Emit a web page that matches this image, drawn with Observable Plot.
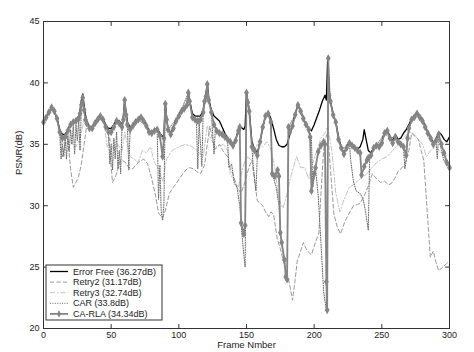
<!DOCTYPE html>
<html><head><meta charset="utf-8">
<script src="https://cdn.jsdelivr.net/npm/d3@7"></script>
<script src="https://cdn.jsdelivr.net/npm/@observablehq/plot@0.6"></script>
<style>body{margin:0;background:#fff;} #chart{width:474px;height:352px;}</style>
</head><body><div id="chart"></div>
<script>
const xTicks = [0, 50, 100, 150, 200, 250, 300];
const yTicks = [20, 25, 30, 35, 40, 45];
const legendNames = ["Error Free (36.27dB)", "Retry2 (31.17dB)", "Retry3 (32.74dB)", "CAR (33.8dB)", "CA-RLA (34.34dB)"];

const errorFree = [[0,36.8],[2,37.2],[4,37.6],[6,38.0],[8,37.7],[10,37.1],[12,36.2],[14,35.8],[16,35.8],[18,36.2],[20,36.7],[22,36.9],[24,37.0],[26,37.3],[27,37.8],[28,38.6],[29,39.1],[30,38.2],[31,37.4],[32,36.9],[34,36.4],[36,36.4],[38,36.8],[40,37.1],[42,37.4],[44,37.1],[46,36.6],[48,36.3],[50,36.3],[52,36.6],[54,37.0],[56,36.9],[58,36.6],[59,37.2],[60,38.6],[61,37.6],[62,36.8],[64,36.4],[66,36.6],[68,36.9],[70,37.1],[72,37.3],[74,37.0],[76,36.6],[78,36.1],[80,36.0],[82,36.2],[84,36.3],[86,35.9],[88,35.6],[89,35.8],[90,38.3],[91,37.2],[92,36.3],[94,35.9],[96,36.4],[98,37.0],[100,37.4],[102,37.8],[104,38.0],[106,38.3],[107,39.2],[108,38.6],[110,37.5],[112,37.3],[114,37.3],[116,37.3],[118,37.8],[119,38.6],[120,39.0],[121,40.0],[122,38.7],[124,37.8],[126,37.3],[128,37.1],[130,36.9],[132,36.4],[134,35.9],[136,35.5],[138,35.3],[140,35.0],[142,35.4],[144,36.2],[146,36.4],[148,36.2],[149,36.5],[150,39.2],[151,38.5],[152,37.8],[154,35.2],[156,34.6],[158,34.3],[160,35.2],[162,36.4],[164,37.3],[166,37.6],[168,37.1],[170,36.3],[172,35.4],[174,34.9],[176,34.8],[178,34.8],[180,35.0],[182,35.8],[184,36.6],[186,37.5],[188,38.2],[190,37.7],[192,37.1],[194,36.6],[196,36.3],[198,36.1],[200,36.6],[202,37.2],[204,37.8],[206,38.5],[208,39.0],[209,38.6],[210,42.0],[211,39.5],[212,38.5],[214,37.4],[216,36.8],[218,35.5],[220,34.8],[222,34.3],[224,34.8],[226,35.2],[228,35.0],[230,34.8],[232,34.6],[234,34.8],[236,35.4],[237,36.2],[238,35.6],[240,34.5],[242,34.3],[244,34.8],[246,35.0],[248,34.9],[250,35.2],[252,36.0],[254,36.2],[256,35.6],[258,35.3],[260,35.8],[262,35.4],[264,35.5],[266,35.9],[268,36.2],[270,36.6],[272,37.1],[274,37.3],[276,37.6],[278,37.3],[280,37.0],[282,36.5],[284,36.0],[286,35.6],[288,35.1],[290,35.4],[292,36.0],[294,35.8],[296,35.4],[298,35.2],[300,35.6]];

const retry2 = [[0,36.8],[6,38.0],[10,37.1],[12,36.0],[14,34.0],[16,35.0],[18,35.3],[20,33.0],[22,31.5],[24,31.9],[26,32.4],[28,33.4],[30,35.0],[32,36.6],[36,36.3],[42,37.3],[46,36.4],[48,36.0],[49,34.5],[51,31.9],[53,32.3],[55,33.0],[57,33.7],[60,33.6],[63,33.1],[66,33.0],[68,33.3],[70,33.5],[74,33.8],[77,33.4],[80,32.2],[83,30.7],[85,29.4],[88,29.0],[90,29.6],[93,31.0],[96,31.5],[98,31.8],[101,32.3],[103,32.6],[106,33.0],[108,33.1],[111,33.0],[113,32.8],[116,32.6],[119,33.3],[121,35.0],[123,36.5],[125,35.3],[127,34.6],[130,35.0],[133,34.4],[136,34.0],[138,33.0],[140,32.6],[143,31.5],[146,31.0],[149,32.0],[152,33.2],[154,33.7],[156,32.0],[158,30.4],[160,30.2],[162,30.0],[164,29.5],[166.5,29.1],[168,29.5],[170,29.3],[172.7,27.3],[175,26.5],[177.6,25.3],[180,24.5],[182,23.5],[184,22.3],[186,24.0],[187.5,25.5],[190,26.3],[192,27.0],[194,26.5],[196,26.2],[198,26.0],[200,26.7],[203.5,27.8],[205,31.0],[207,34.5],[208,35.3],[210,36.0],[212,33.0],[214.6,29.3],[217,28.3],[219.5,27.7],[222,28.5],[224,29.0],[227,29.6],[229,30.0],[232,30.1],[234,30.2],[237,30.8],[240,31.6],[243,32.6],[246,32.2],[249,31.9],[252,32.0],[255,31.7],[257,31.8],[260,32.3],[262,32.8],[265,33.1],[267,33.4],[270,34.5],[272,35.9],[275,35.6],[277,35.4],[279,34.5],[281,33.7],[283.3,29.9],[285.8,25.8],[288,26.3],[290,25.4],[292,24.7],[294,24.9],[296,25.1],[298,25.3],[300,25.5]];

const retry3 = [[0,36.8],[6,38.0],[10,37.1],[12,36.0],[14,35.0],[17,35.5],[21,35.0],[24,34.8],[27,35.5],[30,37.0],[33,36.6],[36,36.4],[42,37.3],[45,36.5],[47,34.8],[49,35.5],[52,34.5],[55,35.0],[58,34.4],[60,36.0],[62,35.0],[64,34.0],[67,33.8],[70,33.5],[73,34.5],[76,34.3],[79,34.8],[82,33.5],[85,33.0],[88,32.0],[91,33.8],[95,34.5],[100,34.8],[105,35.0],[110,34.8],[115,34.3],[118,34.0],[121,36.5],[124,35.3],[128,34.8],[133,35.0],[136,34.5],[138,32.6],[141,32.0],[144,31.5],[147,33.0],[150,34.0],[154,33.7],[156,34.5],[158,35.0],[162,34.8],[165,35.2],[168,34.6],[171,33.0],[174,30.5],[177,29.8],[180,31.0],[183,32.5],[187,34.0],[190,33.1],[193,33.1],[196,32.2],[199,33.5],[202,34.5],[205,35.5],[208,35.9],[210,36.5],[213,34.5],[216,31.0],[219,29.5],[222,30.5],[226,31.5],[230,31.8],[234,32.2],[238,32.5],[242,33.0],[246,33.5],[250,33.8],[254,34.0],[258,34.5],[262,35.0],[266,35.5],[270,36.0],[273,35.9],[277,35.4],[280,35.0],[283,34.0],[286,34.5],[290,34.8],[294,34.3],[297,34.0],[300,34.2]];

const car = [[0,36.8],[6,38.0],[10,37.1],[12,36.0],[13,33.8],[14,35.0],[15,34.0],[16,35.6],[17,33.8],[18,35.8],[19,34.4],[20,36.2],[21,35.0],[22,36.5],[23,34.2],[24,36.6],[25,35.3],[26,37.0],[27,34.5],[28,38.0],[29,38.8],[31,37.0],[34,36.3],[40,37.0],[44,37.0],[48,36.0],[49,33.4],[50,35.0],[51,32.9],[52,35.5],[53,33.8],[54,36.0],[55,33.0],[56,34.5],[57,32.6],[58,36.4],[60,38.6],[62,36.6],[63,32.9],[64,36.2],[70,37.0],[76,36.5],[80,35.9],[84,36.2],[85,30.5],[86,33.3],[87,29.5],[88,28.8],[89,30.2],[90,38.3],[92,36.2],[100,37.3],[107,39.2],[110,37.2],[113,36.9],[114,33.0],[115,36.8],[117,33.2],[118,37.6],[121,39.9],[124,37.6],[126,34.2],[127,36.3],[130,35.9],[136,35.4],[137,33.1],[139,33.4],[141,31.8],[143,31.5],[145,30.0],[146,28.5],[148,26.0],[149,25.0],[150,39.2],[152,37.7],[154,34.8],[155,33.2],[157,31.2],[158,34.1],[160,35.2],[164,37.3],[166,37.5],[168,36.8],[169,32.6],[172,31.5],[174,30.0],[175,27.8],[178,25.4],[180,24.0],[181,36.4],[186,37.4],[188,38.2],[192,37.1],[196,36.2],[198,35.4],[199,31.5],[201,33.0],[203,30.8],[205,27.0],[207,23.0],[209,21.5],[210.4,42.0],[212,38.5],[216,36.8],[220,34.7],[224,34.7],[226,35.1],[227,33.7],[229,32.0],[231,31.2],[234,31.0],[236,30.6],[238,29.5],[240,28.0],[241,33.8],[242,34.1],[246,34.9],[252,35.9],[256,35.5],[260,35.6],[264,35.0],[266,34.8],[267,33.0],[268,33.6],[269,35.5],[272,37.0],[276,37.5],[280,36.9],[284,35.9],[288,35.0],[290,35.3],[291,33.8],[292,35.8],[294,34.5],[296,33.6],[298,33.8],[300,33.3]];

const caRla = [[0,36.8],[2,37.2],[4,37.6],[6,38.0],[8,37.7],[10,37.1],[12,36.0],[14,35.5],[16,35.6],[18,36.1],[20,36.6],[22,36.8],[24,36.9],[26,37.1],[27,37.5],[28,38.2],[29,38.8],[30,37.8],[31,37.0],[32,36.7],[34,36.3],[36,36.3],[38,36.7],[40,37.0],[42,37.3],[44,37.0],[46,36.4],[48,36.0],[50,36.0],[52,36.4],[54,36.9],[56,36.7],[58,36.4],[59,37.0],[60,38.6],[61,37.4],[62,36.6],[64,36.2],[66,36.5],[68,36.8],[70,37.0],[72,37.2],[74,36.9],[76,36.5],[78,36.0],[80,35.9],[82,36.1],[84,36.2],[86,35.7],[88,34.0],[89,35.5],[90,38.3],[91,37.0],[92,36.2],[94,35.8],[96,36.3],[98,36.9],[100,37.3],[102,37.7],[104,37.9],[106,38.2],[107,39.2],[108,38.5],[110,37.2],[112,37.0],[114,36.9],[116,37.0],[118,37.6],[119,38.5],[120,38.9],[121,39.9],[122,38.6],[124,37.6],[126,36.6],[128,36.1],[130,35.9],[132,35.8],[134,35.6],[136,35.4],[138,35.2],[140,34.9],[142,35.3],[144,36.1],[145,36.4],[146,28.6],[148,27.7],[149,28.4],[150,39.2],[151,38.4],[152,37.7],[154,34.8],[156,34.5],[158,34.1],[160,35.2],[162,36.4],[164,37.3],[166,37.5],[168,36.8],[169,32.6],[171,32.4],[173,32.9],[174,32.4],[175,27.8],[176,27.0],[178,25.6],[179,24.2],[180,24.0],[181,36.4],[182,36.0],[184,36.5],[186,37.4],[188,38.2],[190,37.7],[192,37.1],[194,36.6],[196,36.2],[197,35.6],[198,31.2],[200,32.6],[201,33.1],[203,34.4],[205,34.9],[207,35.2],[208,35.0],[209,23.8],[209.6,21.5],[210.4,42.0],[211,39.0],[212,38.5],[214,37.4],[216,36.8],[218,35.4],[220,34.7],[222,34.2],[224,34.7],[226,35.1],[228,34.9],[230,34.7],[232,34.5],[234,34.3],[235,32.5],[237,33.2],[239,33.7],[240,33.9],[242,34.1],[244,34.7],[246,34.9],[248,34.8],[250,35.1],[252,35.9],[254,36.1],[256,35.5],[258,35.1],[260,35.6],[262,35.2],[264,35.0],[266,34.8],[268,34.1],[269,35.5],[270,36.3],[272,37.0],[274,37.2],[276,37.5],[278,37.2],[280,36.9],[282,36.4],[284,35.9],[286,35.5],[288,35.0],[290,35.3],[292,35.8],[294,35.0],[296,34.3],[298,33.5],[300,33.1]];

const toRows = arr => arr.map(([frame, psnr]) => ({frame, psnr}));
const font = "'Liberation Sans', Arial, Helvetica, sans-serif";
const tickShape = {draw(ctx, l) { ctx.moveTo(0, 0); ctx.lineTo(0, -l); }};
const tickOpts = {anchor: "start", length: 4, shape: tickShape, stroke: "#333", strokeWidth: 1};

const lineStyles = [
  {stroke: "#000", strokeWidth: 1.3},
  {stroke: "#9a9a9a", strokeWidth: 1, strokeDasharray: "4,2.5"},
  {stroke: "#c4c4c4", strokeWidth: 1, strokeDasharray: "5,2,1.5,2"},
  {stroke: "#6a6a6a", strokeWidth: 1, strokeDasharray: "1,1.4"},
  {stroke: "#858585", strokeWidth: 1.8}
];

const plot = Plot.plot({
  width: 474, height: 352,
  marginLeft: 43, marginRight: 25, marginTop: 21, marginBottom: 24,
  style: {fontFamily: font, fontSize: "9px", background: "#fff", color: "#222"},
  x: {domain: [0, 300]},
  y: {domain: [20, 45]},
  marks: [
    Plot.line(toRows(retry3), {x: "frame", y: "psnr", ...lineStyles[2]}),
    Plot.line(toRows(retry2), {x: "frame", y: "psnr", ...lineStyles[1]}),
    Plot.line(toRows(car), {x: "frame", y: "psnr", ...lineStyles[3]}),
    Plot.line(toRows(errorFree), {x: "frame", y: "psnr", ...lineStyles[0]}),
    Plot.line(toRows(caRla), {x: "frame", y: "psnr", ...lineStyles[4]}),
    Plot.dot(toRows(caRla), {x: "frame", y: "psnr", symbol: "diamond", r: 2.5, fill: "#858585"}),
    Plot.frame({stroke: "#333"}),
    Plot.vectorX(xTicks, {x: d => d, frameAnchor: "bottom", rotate: 0, ...tickOpts}),
    Plot.vectorX(xTicks, {x: d => d, frameAnchor: "top", rotate: 180, ...tickOpts}),
    Plot.vectorY(yTicks, {y: d => d, frameAnchor: "left", rotate: 90, ...tickOpts}),
    Plot.vectorY(yTicks, {y: d => d, frameAnchor: "right", rotate: -90, ...tickOpts}),
    Plot.axisX(xTicks, {anchor: "bottom", tickSize: 0, tickPadding: 3, label: null}),
    Plot.axisY(yTicks, {anchor: "left", tickSize: 0, tickPadding: 4, label: null}),
    Plot.text(["Frame Nmber"], {frameAnchor: "bottom", dy: 19.5, fontSize: 9.5}),
    Plot.text(["PSNR(dB)"], {frameAnchor: "left", dx: -25, rotate: -90, fontSize: 9.5})
  ]
});
document.getElementById("chart").appendChild(plot);

// legend inside plot area (bottom-left)
const svg = d3.select(plot);
const lg = svg.append("g").attr("font-family", font).attr("font-size", 9)
  .attr("fill", "#222").attr("text-anchor", "start");
lg.append("rect").attr("x", 46).attr("y", 265).attr("width", 116).attr("height", 55)
  .attr("fill", "#fff").attr("stroke", "#333").attr("stroke-width", 1);
legendNames.forEach((name, i) => {
  const y = 271.5 + i * 10.6;
  const st = lineStyles[i];
  lg.append("line").attr("x1", 50).attr("x2", 68).attr("y1", y).attr("y2", y)
    .attr("stroke", st.stroke).attr("stroke-width", st.strokeWidth)
    .attr("stroke-dasharray", st.strokeDasharray || null);
  if (i === 4) {
    lg.append("path").attr("transform", `translate(59,${y})`)
      .attr("d", d3.symbol(d3.symbolDiamond, 16)()).attr("fill", "#858585");
  }
  lg.append("text").attr("x", 73).attr("y", y).attr("dy", "0.35em")
    .attr("text-anchor", "start").text(name);
});
</script>
</body></html>
